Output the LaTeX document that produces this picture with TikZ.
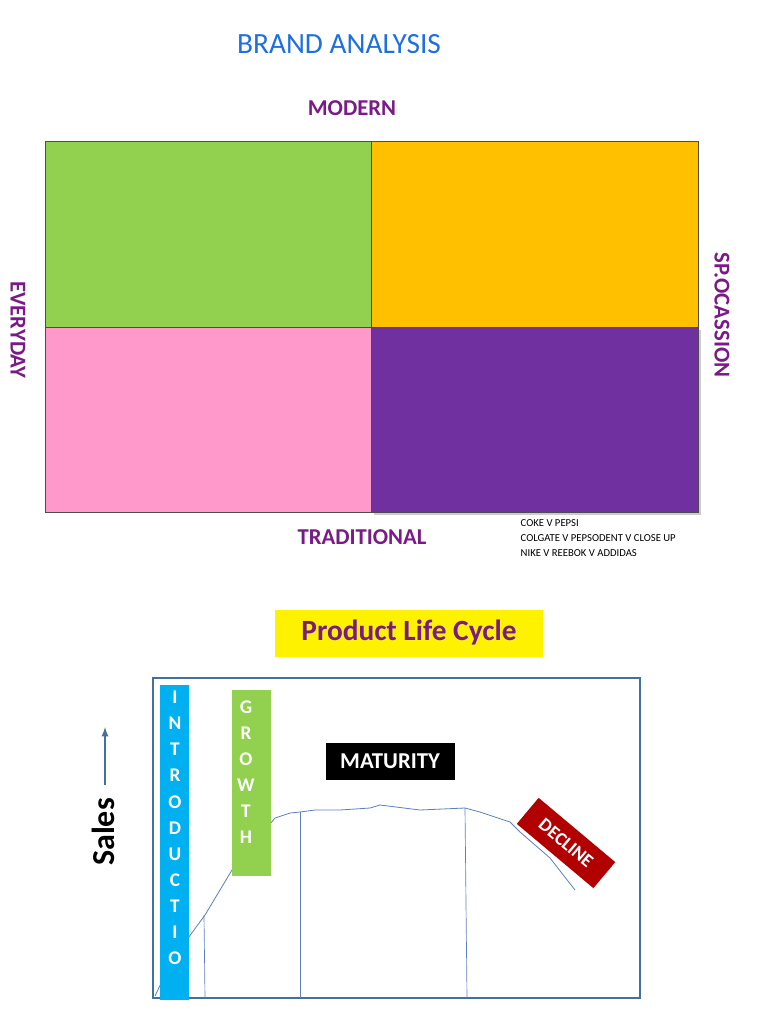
\documentclass[tikz,border=0pt]{standalone}
\usepackage{fontspec}
\setmainfont{Carlito}
\usetikzlibrary{shadows}
\definecolor{qgreen}{HTML}{92D050}
\definecolor{qorange}{HTML}{FFC000}
\definecolor{qpink}{HTML}{FF99CC}
\definecolor{qpurple}{HTML}{7030A0}
\definecolor{lbl}{HTML}{7A1A86}
\definecolor{ttl}{HTML}{1F6FE0}
\definecolor{curve}{HTML}{5B7FC0}
\definecolor{frame}{HTML}{41719C}
\definecolor{qblue}{HTML}{00B0F0}
\tikzset{quad/.style={draw=black!70,line width=0.6pt},
 axl/.style={text=lbl,font=\bfseries\fontsize{17}{17}\selectfont},
 phase/.style={text=white,align=center,font=\bfseries\fontsize{14.5}{19.6}\selectfont},
 vl/.style={draw=curve,line width=0.5pt}}
\begin{document}
\begin{tikzpicture}[x=0.75pt,y=-0.75pt]
\useasboundingbox (0,0) rectangle (768,1024);
\node[text=ttl,font=\fontsize{22}{22}\selectfont] (title) at (339,44) {BRAND ANALYSIS};
\node[axl] (modern) at (352,108) {MODERN};
\node[axl] (trad) at (362,537) {TRADITIONAL};
\node[axl,rotate=-90] (every) at (18,330) {EVERYDAY};
\node[axl,rotate=-90] (spo) at (722,315) {SP.OCASSION};
\fill[qgreen,quad] (45,141) rectangle (371,327);
\fill[qorange,quad] (371,141) rectangle (698,327);
\fill[qpink,quad] (45,327) rectangle (371,512);
\fill[qpurple,quad,drop shadow={opacity=0.4}] (371,327) rectangle (698,512);
\node[anchor=west,font=\fontsize{8}{11.2}\selectfont,align=left] (ex) at (516,538) {COKE V PEPSI\\COLGATE V PEPSODENT V CLOSE UP\\NIKE V REEBOK V ADDIDAS};
\fill[yellow] (275,610) rectangle (543,657);
\node[text=lbl,font=\bfseries\fontsize{22}{22}\selectfont] (plc) at (409,633) {Product Life Cycle};
\draw[frame,line width=1pt] (153,678) rectangle (640,998);
\draw[curve,line width=0.6pt] (155,996) -- (172,960) -- (205,915) -- (232,870) -- (275,818) -- (290,813) -- (300,812) -- (315,810) -- (340,810) -- (370,808) -- (380,805) -- (420,810) -- (465,808) -- (480,812) -- (510,822) -- (520,832) -- (550,858) -- (575,890);
\draw[vl] (204,915) -- (205,998);
\draw[vl] (300,812) -- (300,998);
\draw[vl] (465,808) -- (467,998);
\fill[qblue] (160,685) rectangle (189,1000);
\node[phase] (intro) at (175,828) {I\\N\\T\\R\\O\\D\\U\\C\\T\\I\\O};
\fill[qgreen] (232,690) rectangle (271,876);
\node[phase] (growth) at (246,772) {G\\R\\O\\W\\T\\H};
\node[fill=black,text=white,font=\bfseries\fontsize{17}{17}\selectfont,minimum width=129*0.75pt,minimum height=37*0.75pt] (mat) at (390,761) {MATURITY};
\node[fill=red!70!black,text=white,font=\bfseries\fontsize{14}{14}\selectfont,rotate=-40,minimum width=100*0.75pt,minimum height=34*0.75pt,inner sep=1pt] (dec) at (566,843) {DECLINE};
\node[rotate=90,font=\bfseries\fontsize{24}{24}\selectfont] (sales) at (103,832) {Sales};
\coordinate (a1) at (105,785);
\coordinate (a2) at (105,727);
\draw[-latex,frame,line width=1.4pt] (a1) -- (a2);
\end{tikzpicture}
\end{document}
